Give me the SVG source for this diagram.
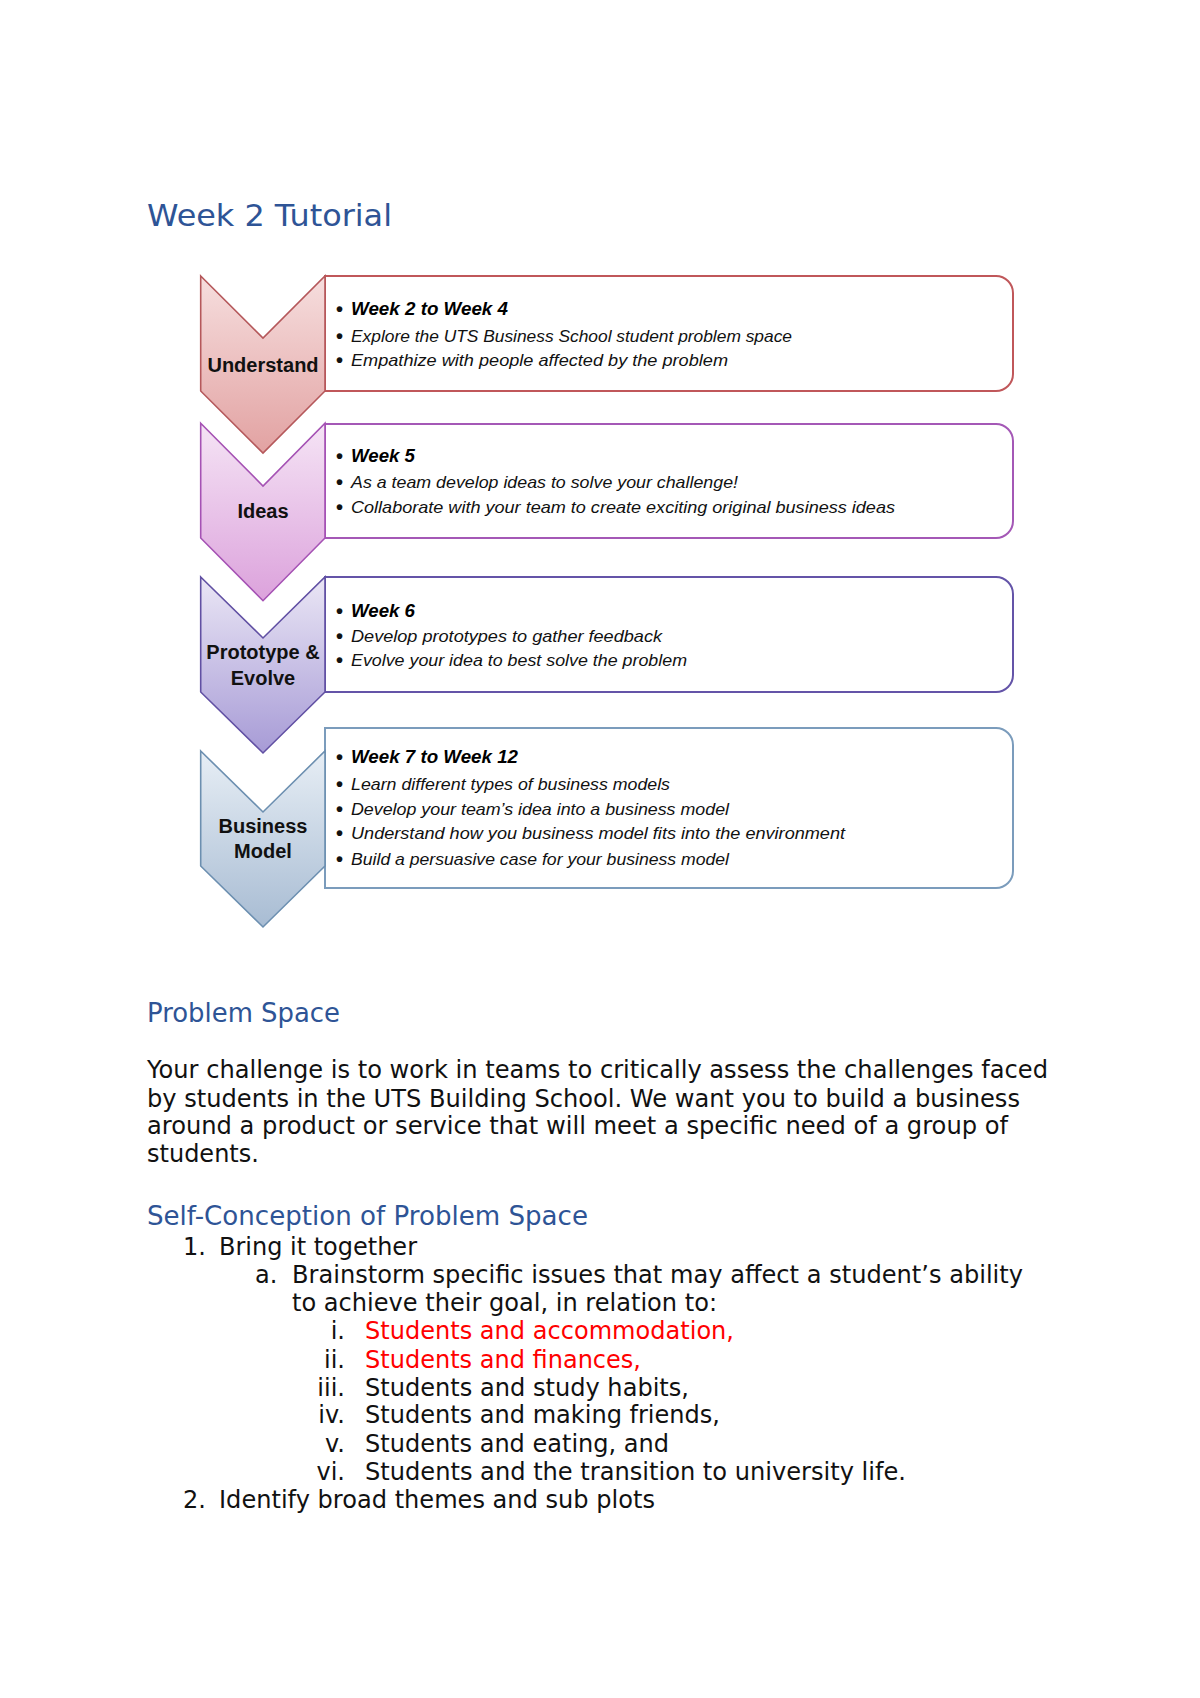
<svg xmlns="http://www.w3.org/2000/svg" width="1200" height="1698" viewBox="0 0 1200 1698">
<style>
.title{font-family:"DejaVu Sans",sans-serif;font-size:31px;fill:#2E5496}
.head{font-family:"DejaVu Sans",sans-serif;font-size:26px;fill:#2E5496}
.body{font-family:"DejaVu Sans",sans-serif;font-size:24px;fill:#111}
.red{fill:#FF0000}
.lbl{font-family:"Liberation Sans",Arial,sans-serif;font-size:20px;font-weight:bold;fill:#111;text-anchor:middle}
.wk{font-family:"Liberation Sans",Arial,sans-serif;font-size:18.5px;font-weight:bold;font-style:italic;fill:#000}
.it{font-family:"Liberation Sans",Arial,sans-serif;font-size:17px;font-style:italic;fill:#111}
.bul{font-family:"Liberation Sans",Arial,sans-serif;font-size:20px;font-weight:bold;fill:#111}
.box{fill:#fff;stroke-width:2}
.chev{stroke-width:1.6}
</style>
<defs>
<linearGradient id="gU" x1="0" y1="0" x2="0" y2="1"><stop offset="0" stop-color="#F6DEDE"/><stop offset="1" stop-color="#E2A2A2"/></linearGradient>
<linearGradient id="gI" x1="0" y1="0" x2="0" y2="1"><stop offset="0" stop-color="#F5E4F5"/><stop offset="1" stop-color="#DCA2DC"/></linearGradient>
<linearGradient id="gP" x1="0" y1="0" x2="0" y2="1"><stop offset="0" stop-color="#EAE6F5"/><stop offset="1" stop-color="#A79BD6"/></linearGradient>
<linearGradient id="gB" x1="0" y1="0" x2="0" y2="1"><stop offset="0" stop-color="#E7EEF5"/><stop offset="1" stop-color="#A8BCD3"/></linearGradient>
</defs>

<text class="title" x="147" y="226" textLength="245" lengthAdjust="spacingAndGlyphs">Week 2 Tutorial</text>

<g id="understand">
<path class="box" stroke="#C0575A" d="M325,276 H996 A17,17 0 0 1 1013,293 V374 A17,17 0 0 1 996,391 H325 Z"/>
<path class="chev" fill="url(#gU)" stroke="#B5585B" d="M200.7,276 L263,338 L325,276 L325,391 L263,453 L200.7,391 Z"/>
<text class="lbl" x="263" y="372">Understand</text>
<text class="bul" x="336" y="316">•</text><text class="wk" x="351" y="315" textLength="157" lengthAdjust="spacingAndGlyphs">Week 2 to Week 4</text>
<text class="bul" x="336" y="343">•</text><text class="it" x="351" y="342" textLength="441" lengthAdjust="spacingAndGlyphs">Explore the UTS Business School student problem space</text>
<text class="bul" x="336" y="367">•</text><text class="it" x="351" y="366" textLength="377" lengthAdjust="spacingAndGlyphs">Empathize with people affected by the problem</text>
</g>

<g id="ideas">
<path class="box" stroke="#A458B6" d="M325,424 H996 A17,17 0 0 1 1013,441 V521 A17,17 0 0 1 996,538 H325 Z"/>
<path class="chev" fill="url(#gI)" stroke="#A552B4" d="M200.7,423.3 L263,486 L325,423.3 L325,538 L263,600.7 L200.7,538 Z"/>
<text class="lbl" x="263" y="518">Ideas</text>
<text class="bul" x="336" y="463">•</text><text class="wk" x="351" y="462" textLength="64" lengthAdjust="spacingAndGlyphs">Week 5</text>
<text class="bul" x="336" y="489">•</text><text class="it" x="351" y="488" textLength="387" lengthAdjust="spacingAndGlyphs">As a team develop ideas to solve your challenge!</text>
<text class="bul" x="336" y="514">•</text><text class="it" x="351" y="513" textLength="544" lengthAdjust="spacingAndGlyphs">Collaborate with your team to create exciting original business ideas</text>
</g>

<g id="prototype">
<path class="box" stroke="#6454A8" d="M325,577 H996 A17,17 0 0 1 1013,594 V675 A17,17 0 0 1 996,692 H325 Z"/>
<path class="chev" fill="url(#gP)" stroke="#6150A3" d="M200.7,577 L263,638 L325,577 L325,692 L263,753 L200.7,692 Z"/>
<text class="lbl" x="263" y="659">Prototype &amp;</text>
<text class="lbl" x="263" y="685">Evolve</text>
<text class="bul" x="336" y="618">•</text><text class="wk" x="351" y="617" textLength="64" lengthAdjust="spacingAndGlyphs">Week 6</text>
<text class="bul" x="336" y="643">•</text><text class="it" x="351" y="642" textLength="311" lengthAdjust="spacingAndGlyphs">Develop prototypes to gather feedback</text>
<text class="bul" x="336" y="667">•</text><text class="it" x="351" y="666" textLength="336" lengthAdjust="spacingAndGlyphs">Evolve your idea to best solve the problem</text>
</g>

<g id="business">
<path class="box" stroke="#7B9CBC" d="M325,728 H996 A17,17 0 0 1 1013,745 V871 A17,17 0 0 1 996,888 H325 Z"/>
<path class="chev" fill="url(#gB)" stroke="#6C8FB0" d="M200.7,751 L263,812 L325,751 L325,866 L263,927 L200.7,866 Z"/>
<text class="lbl" x="263" y="833">Business</text>
<text class="lbl" x="263" y="858">Model</text>
<text class="bul" x="336" y="764">•</text><text class="wk" x="351" y="763" textLength="167" lengthAdjust="spacingAndGlyphs">Week 7 to Week 12</text>
<text class="bul" x="336" y="791">•</text><text class="it" x="351" y="790" textLength="319" lengthAdjust="spacingAndGlyphs">Learn different types of business models</text>
<text class="bul" x="336" y="816">•</text><text class="it" x="351" y="815" textLength="378" lengthAdjust="spacingAndGlyphs">Develop your team’s idea into a business model</text>
<text class="bul" x="336" y="840">•</text><text class="it" x="351" y="839" textLength="494" lengthAdjust="spacingAndGlyphs">Understand how you business model fits into the environment</text>
<text class="bul" x="336" y="866">•</text><text class="it" x="351" y="865" textLength="378" lengthAdjust="spacingAndGlyphs">Build a persuasive case for your business model</text>
</g>

<g id="connectors"></g>

<text class="head" x="147" y="1022" textLength="193" lengthAdjust="spacingAndGlyphs">Problem Space</text>
<text class="body" x="147" y="1078" textLength="901" lengthAdjust="spacingAndGlyphs">Your challenge is to work in teams to critically assess the challenges faced</text>
<text class="body" x="147" y="1107" textLength="873" lengthAdjust="spacingAndGlyphs">by students in the UTS Building School. We want you to build a business</text>
<text class="body" x="147" y="1134" textLength="861" lengthAdjust="spacingAndGlyphs">around a product or service that will meet a specific need of a group of</text>
<text class="body" x="147" y="1162">students.</text>

<text class="head" x="147" y="1225" textLength="441" lengthAdjust="spacingAndGlyphs">Self-Conception of Problem Space</text>
<text class="body" x="183" y="1255">1.</text>
<text class="body" x="219" y="1255" textLength="198" lengthAdjust="spacingAndGlyphs">Bring it together</text>
<text class="body" x="255" y="1283">a.</text>
<text class="body" x="292" y="1283" textLength="731" lengthAdjust="spacingAndGlyphs">Brainstorm specific issues that may affect a student’s ability</text>
<text class="body" x="292" y="1311" textLength="425" lengthAdjust="spacingAndGlyphs">to achieve their goal, in relation to:</text>
<g class="body" text-anchor="end">
<text x="345" y="1339">i.</text>
<text x="345" y="1368">ii.</text>
<text x="345" y="1396">iii.</text>
<text x="345" y="1423">iv.</text>
<text x="345" y="1452">v.</text>
<text x="345" y="1480">vi.</text>
</g>
<text class="body red" x="365" y="1339" textLength="369" lengthAdjust="spacingAndGlyphs">Students and accommodation,</text>
<text class="body red" x="365" y="1368" textLength="276" lengthAdjust="spacingAndGlyphs">Students and finances,</text>
<text class="body" x="365" y="1396" textLength="324" lengthAdjust="spacingAndGlyphs">Students and study habits,</text>
<text class="body" x="365" y="1423" textLength="355" lengthAdjust="spacingAndGlyphs">Students and making friends,</text>
<text class="body" x="365" y="1452" textLength="304" lengthAdjust="spacingAndGlyphs">Students and eating, and</text>
<text class="body" x="365" y="1480" textLength="541" lengthAdjust="spacingAndGlyphs">Students and the transition to university life.</text>
<text class="body" x="183" y="1508">2.</text>
<text class="body" x="219" y="1508" textLength="436" lengthAdjust="spacingAndGlyphs">Identify broad themes and sub plots</text>
</svg>
